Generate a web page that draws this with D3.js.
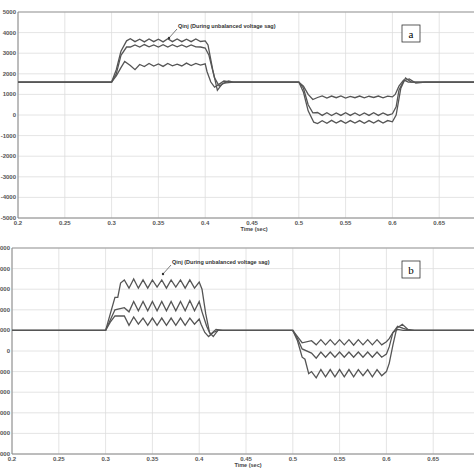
<!DOCTYPE html><html><head><script src="https://cdn.jsdelivr.net/npm/d3@7"></script>
<style>body{margin:0;background:#fff}</style></head><body><svg id="c" width="474" height="474"></svg>
<script>
const xTicks=[0.2,0.25,0.3,0.35,0.4,0.45,0.5,0.55,0.6,0.65];
const yTicks=[-5000,-4000,-3000,-2000,-1000,0,1000,2000,3000,4000,5000];
const rip=[0.32,0.325,0.33,0.335,0.34,0.345,0.35,0.355,0.36,0.365,0.37,0.375,0.38,0.385,0.39,0.395,0.4];
const rip2=[0.52,0.525,0.53,0.535,0.54,0.545,0.55,0.555,0.56,0.565,0.57,0.575,0.58,0.585,0.59,0.595,0.6];
// top panel (a)
const aA_s1=[3700,3560,3680,3550,3690,3560,3680,3550,3700,3560,3690,3560,3680,3560,3690,3570,3600];
const aA_s2=[-420,-280,-400,-260,-390,-270,-400,-270,-390,-270,-400,-270,-390,-260,-390,-270,-330];
const aB_s1=[3300,3400,3300,3420,3310,3400,3300,3410,3300,3410,3310,3400,3300,3400,3310,3300,3250];
const aB_s2=[120,-20,110,-30,100,-20,110,-20,100,-30,100,-20,110,-20,100,-10,60];
const aC_s1=[2400,2200,2450,2350,2500,2380,2480,2360,2500,2390,2470,2380,2520,2400,2500,2420,2480];
const aC_s2=[850,930,820,920,840,930,820,900,840,920,830,910,850,920,830,920,880];
// bottom panel (b)
const bA_s1=[3450,3050,3500,3050,3450,3050,3450,3100,3450,3050,3450,3100,3450,3050,3450,3050,3350];
const bA_s2=[-1000,-1300,-900,-1250,-900,-1250,-900,-1250,-900,-1250,-900,-1200,-900,-1250,-900,-1200,-1000];
const bB_s1=[2100,1900,2400,1950,2400,1950,2400,1950,2400,1950,2400,1950,2400,1950,2450,1950,2400];
const bB_s2=[-100,-350,-50,-300,-50,-300,-50,-300,-50,-300,-50,-300,-50,-300,-50,-300,-150];
const bC_s1=[1700,1250,1650,1300,1600,1250,1600,1250,1600,1250,1600,1250,1600,1250,1600,1300,1550];
const bC_s2=[500,300,550,300,550,300,550,300,550,280,550,300,550,300,550,300,450];

function curve(base,pre1,s1,post1,pre2,s2,post2){
  const p=[[0.2,base],[0.3,base]].concat(pre1);
  rip.forEach((t,i)=>p.push([t,s1[i]]));
  p.push(...post1,[0.5,base],...pre2);
  rip2.forEach((t,i)=>p.push([t,s2[i]]));
  p.push(...post2,[0.7,base]);return p;
}
const panelA=[
 curve(1600,[[0.305,2200],[0.31,3100],[0.316,3600]],aA_s1,[[0.403,3400],[0.408,2200],[0.413,1200],[0.418,1500],[0.425,1650],[0.43,1600]],[[0.505,1100],[0.51,200],[0.516,-350]],aA_s2,[[0.604,0],[0.609,1300],[0.614,1800],[0.62,1600],[0.63,1600]]),
 curve(1600,[[0.305,2000],[0.31,2900],[0.316,3300]],aB_s1,[[0.404,2900],[0.41,1800],[0.415,1400],[0.42,1550],[0.43,1600]],[[0.505,1300],[0.51,500],[0.515,100]],aB_s2,[[0.604,400],[0.607,1200],[0.612,1650],[0.618,1750],[0.625,1550],[0.635,1600]]),
 curve(1600,[[0.305,1900],[0.31,2300],[0.314,2600]],aC_s1,[[0.402,2100],[0.406,1600],[0.41,1350],[0.415,1500],[0.42,1650],[0.428,1600]],[[0.505,1400],[0.51,1000],[0.515,750]],aC_s2,[[0.603,1000],[0.607,1400],[0.612,1700],[0.617,1600],[0.625,1600]])
];
const panelB=[
 curve(1000,[[0.305,1800],[0.31,2600],[0.313,2600],[0.316,3300]],bA_s1,[[0.403,3000],[0.407,1800],[0.411,900],[0.415,700],[0.42,1000],[0.428,1000]],[[0.505,500],[0.51,-300],[0.513,-400],[0.517,-1100]],bA_s2,[[0.603,-600],[0.607,300],[0.611,1100],[0.617,1300],[0.623,1050],[0.63,1000]]),
 curve(1000,[[0.305,1500],[0.31,2000]],bB_s1,[[0.403,1900],[0.408,1200],[0.412,800],[0.418,1050],[0.425,1000]],[[0.505,600],[0.51,100]],bB_s2,[[0.603,200],[0.607,900],[0.612,1200],[0.618,1100],[0.625,1000]]),
 curve(1000,[[0.305,1400],[0.31,1700]],bC_s1,[[0.402,1300],[0.406,900],[0.41,700],[0.415,900],[0.42,1000]],[[0.505,700],[0.51,400]],bC_s2,[[0.603,600],[0.607,900],[0.612,1050],[0.618,1000]])
];
const svg=d3.select("#c");
function panel(cfg,data,lab){
  const x=d3.scaleLinear().domain([0.2,0.7]).range([cfg.x0,cfg.x0+468]);
  const y=d3.scaleLinear().domain([-5000,5000]).range([cfg.y1,cfg.y0]);
  const g=svg.append("g");
  g.selectAll(".gx").data(xTicks).join("line").attr("x1",d=>x(d)).attr("x2",d=>x(d)).attr("y1",cfg.y0).attr("y2",cfg.y1).attr("stroke","#ddd").attr("stroke-width",0.8);
  g.selectAll(".gy").data(yTicks).join("line").attr("y1",d=>y(d)).attr("y2",d=>y(d)).attr("x1",cfg.x0).attr("x2",474).attr("stroke","#ddd").attr("stroke-width",0.8);
  g.append("line").attr("x1",cfg.x0).attr("x2",474).attr("y1",cfg.y0).attr("y2",cfg.y0).attr("stroke","#999");
  g.append("line").attr("x1",cfg.x0).attr("x2",474).attr("y1",cfg.y1).attr("y2",cfg.y1).attr("stroke","#888");
  g.append("line").attr("x1",cfg.x0).attr("x2",cfg.x0).attr("y1",cfg.y0).attr("y2",cfg.y1).attr("stroke","#888");
  g.selectAll(".ty").data(yTicks).join("text").attr("x",cfg.x0-2).attr("y",d=>y(d)+2).attr("text-anchor","end").attr("font-size",6).attr("font-weight","bold").attr("fill","#555").attr("font-family","Liberation Sans").text(d=>d);
  g.selectAll(".tx").data(xTicks).join("text").attr("x",d=>x(d)).attr("y",cfg.y1+7).attr("text-anchor","middle").attr("font-size",6).attr("font-weight","bold").attr("fill","#555").attr("font-family","Liberation Sans").text(d=>d);
  g.append("text").attr("x",x(0.45)+2).attr("y",cfg.y1+13).attr("text-anchor","middle").attr("font-size",5.5).attr("font-weight","bold").attr("fill","#444").attr("font-family","Liberation Sans").text("Time (sec)");
  const line=d3.line().x(d=>x(d[0])).y(d=>y(d[1]));
  g.selectAll(".c").data(data).join("path").attr("d",line).attr("fill","none").attr("stroke","#555").attr("stroke-width",1.3);
  g.append("text").attr("x",cfg.x0+160).attr("y",cfg.y0+16).attr("font-size",5.5).attr("font-weight","bold").attr("fill","#333").attr("font-family","Liberation Sans").text("Qinj (During unbalanced voltage sag)");
  g.append("line").attr("x1",cfg.x0+159).attr("y1",cfg.y0+17).attr("x2",cfg.x0+151).attr("y2",cfg.y0+26).attr("stroke","#444").attr("stroke-width",0.7);
  g.append("circle").attr("cx",cfg.x0+151).attr("cy",cfg.y0+26).attr("r",1.2).attr("fill","#333");
  g.append("rect").attr("x",402).attr("y",cfg.y0+13).attr("width",18).attr("height",17).attr("fill","#fff").attr("stroke","#333").attr("stroke-width",0.8);
  g.append("text").attr("x",411).attr("y",cfg.y0+26).attr("text-anchor","middle").attr("font-size",11).attr("font-family","Liberation Serif").text(lab);
}
panel({x0:18,y0:12,y1:218},panelA,"a");
panel({x0:12,y0:248,y1:454},panelB,"b");
</script></body></html>
